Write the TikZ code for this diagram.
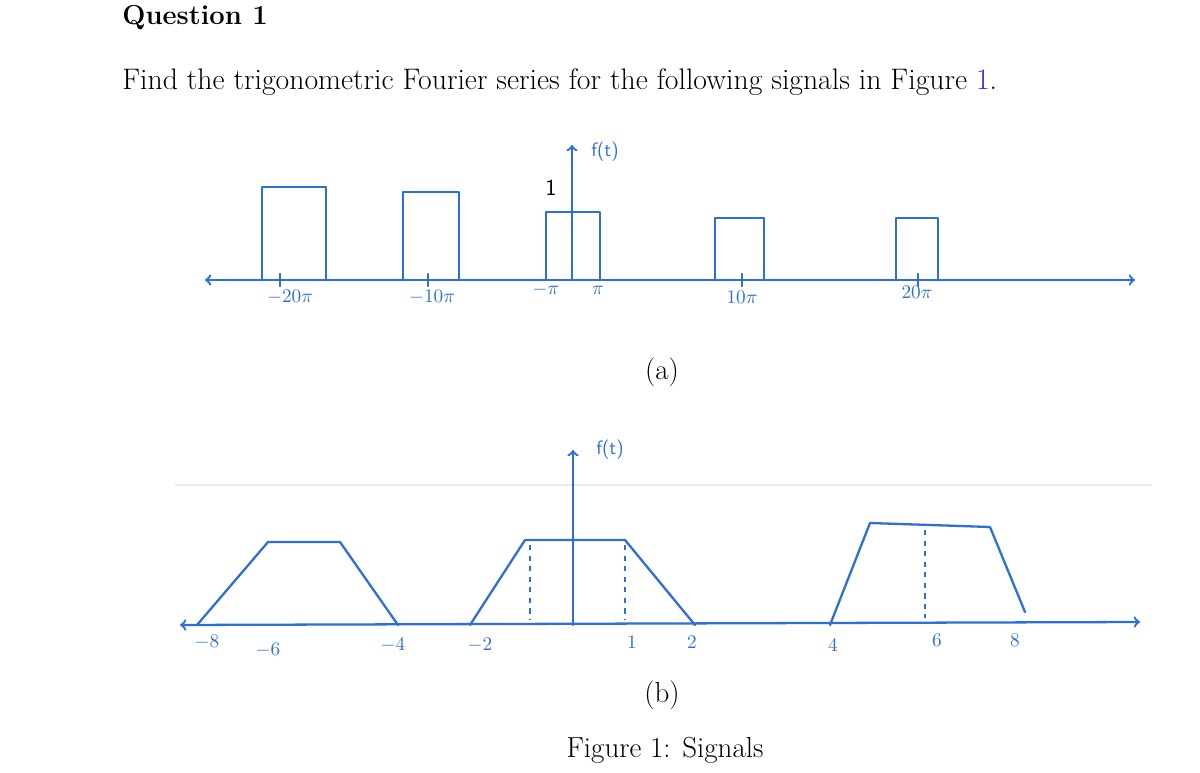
\documentclass[tikz,border=0pt]{standalone}
\usepackage{fontspec}
\begin{document}
\begin{tikzpicture}[x=0.02cm,y=-0.02cm,
  hand/.style={draw=pen,line width=1.3pt,line cap=round,line join=round},
  lab/.style={text=pen,font=\fontsize{11}{12}\selectfont\sffamily,inner sep=0pt},
  doc/.style={font=\fontsize{16.5}{18}\selectfont,inner sep=0pt}]
\definecolor{pen}{RGB}{45,110,215}
\definecolor{lnk}{RGB}{40,40,230}
\useasboundingbox[fill=white] (0,0) rectangle (1200,773);
\node[doc,anchor=west,font=\fontsize{15.6}{18}\selectfont\bfseries] (q) at (122,18) {Question 1};
\node[doc,anchor=west,font=\fontsize{16.9}{18}\selectfont] (t) at (122,82) {Find the trigonometric Fourier series for the following signals in Figure \textcolor{lnk}{1}.};
% (a)
\coordinate (al) at (205,280); \coordinate (ar) at (1135,280);
\draw[hand,->] (572,280) -- (572,145);
\draw[hand,<->] (al) -- (ar);
\draw[hand] (262,280) -- (262,187) -- (326,187) -- (326,280);
\draw[hand] (403,280) -- (403,192) -- (459,192) -- (459,280);
\draw[hand] (546,280) -- (546,212) -- (600,212) -- (600,280);
\draw[hand] (715,280) -- (715,218) -- (764,218) -- (764,280);
\draw[hand] (896,280) -- (896,218) -- (938,218) -- (938,280);
\foreach \x in {280,428,742,918} \draw[hand] (\x,274) -- (\x,286);
\node[lab] (fa) at (605,152) {f(t)};
\node[inner sep=0pt,font=\fontsize{13}{14}\selectfont\sffamily] (one) at (551,188) {1};
\node[lab] (a1) at (290,297) {$-20\pi$};
\node[lab] (a2) at (432,297) {$-10\pi$};
\node[lab] (a3) at (546,290) {$-\pi$};
\node[lab] (a4) at (598,290) {$\pi$};
\node[lab] (a5) at (742,297) {$10\pi$};
\node[lab] (a6) at (917,292) {$20\pi$};
\node[doc] (ca) at (662,372) {(a)};
% (b)
\draw[black!8,line width=0.6pt] (175,485) -- (1152,485);
\draw[hand,<->] (180,625) -- (1140,622);
\draw[hand,->] (573,625) -- (573,450);
\draw[hand] (197,625) -- (268,542) -- (340,542) -- (398,625);
\draw[hand] (470,625) -- (525,540) -- (625,540) -- (695,625);
\draw[hand] (830,625) -- (870,523) -- (990,527) -- (1025,612);
\draw[pen,dashed,line width=0.8pt] (530,545) -- (530,620);
\draw[pen,dashed,line width=0.8pt] (625,545) -- (625,620);
\draw[pen,dashed,line width=0.8pt] (925,530) -- (925,618);
\node[lab] (fb) at (610,450) {f(t)};
\node[lab] (b1) at (207,642) {$-8$};
\node[lab] (b2) at (268,650) {$-6$};
\node[lab] (b3) at (393,645) {$-4$};
\node[lab] (b4) at (480,645) {$-2$};
\node[lab] (b5) at (632,642) {$1$};
\node[lab] (b6) at (692,642) {$2$};
\node[lab] (b7) at (833,645) {$4$};
\node[lab] (b8) at (937,640) {$6$};
\node[lab] (b9) at (1015,640) {$8$};
\node[doc] (cb) at (662,695) {(b)};
\node[doc] (fig) at (665,750) {Figure 1: Signals};
\end{tikzpicture}
\end{document}
